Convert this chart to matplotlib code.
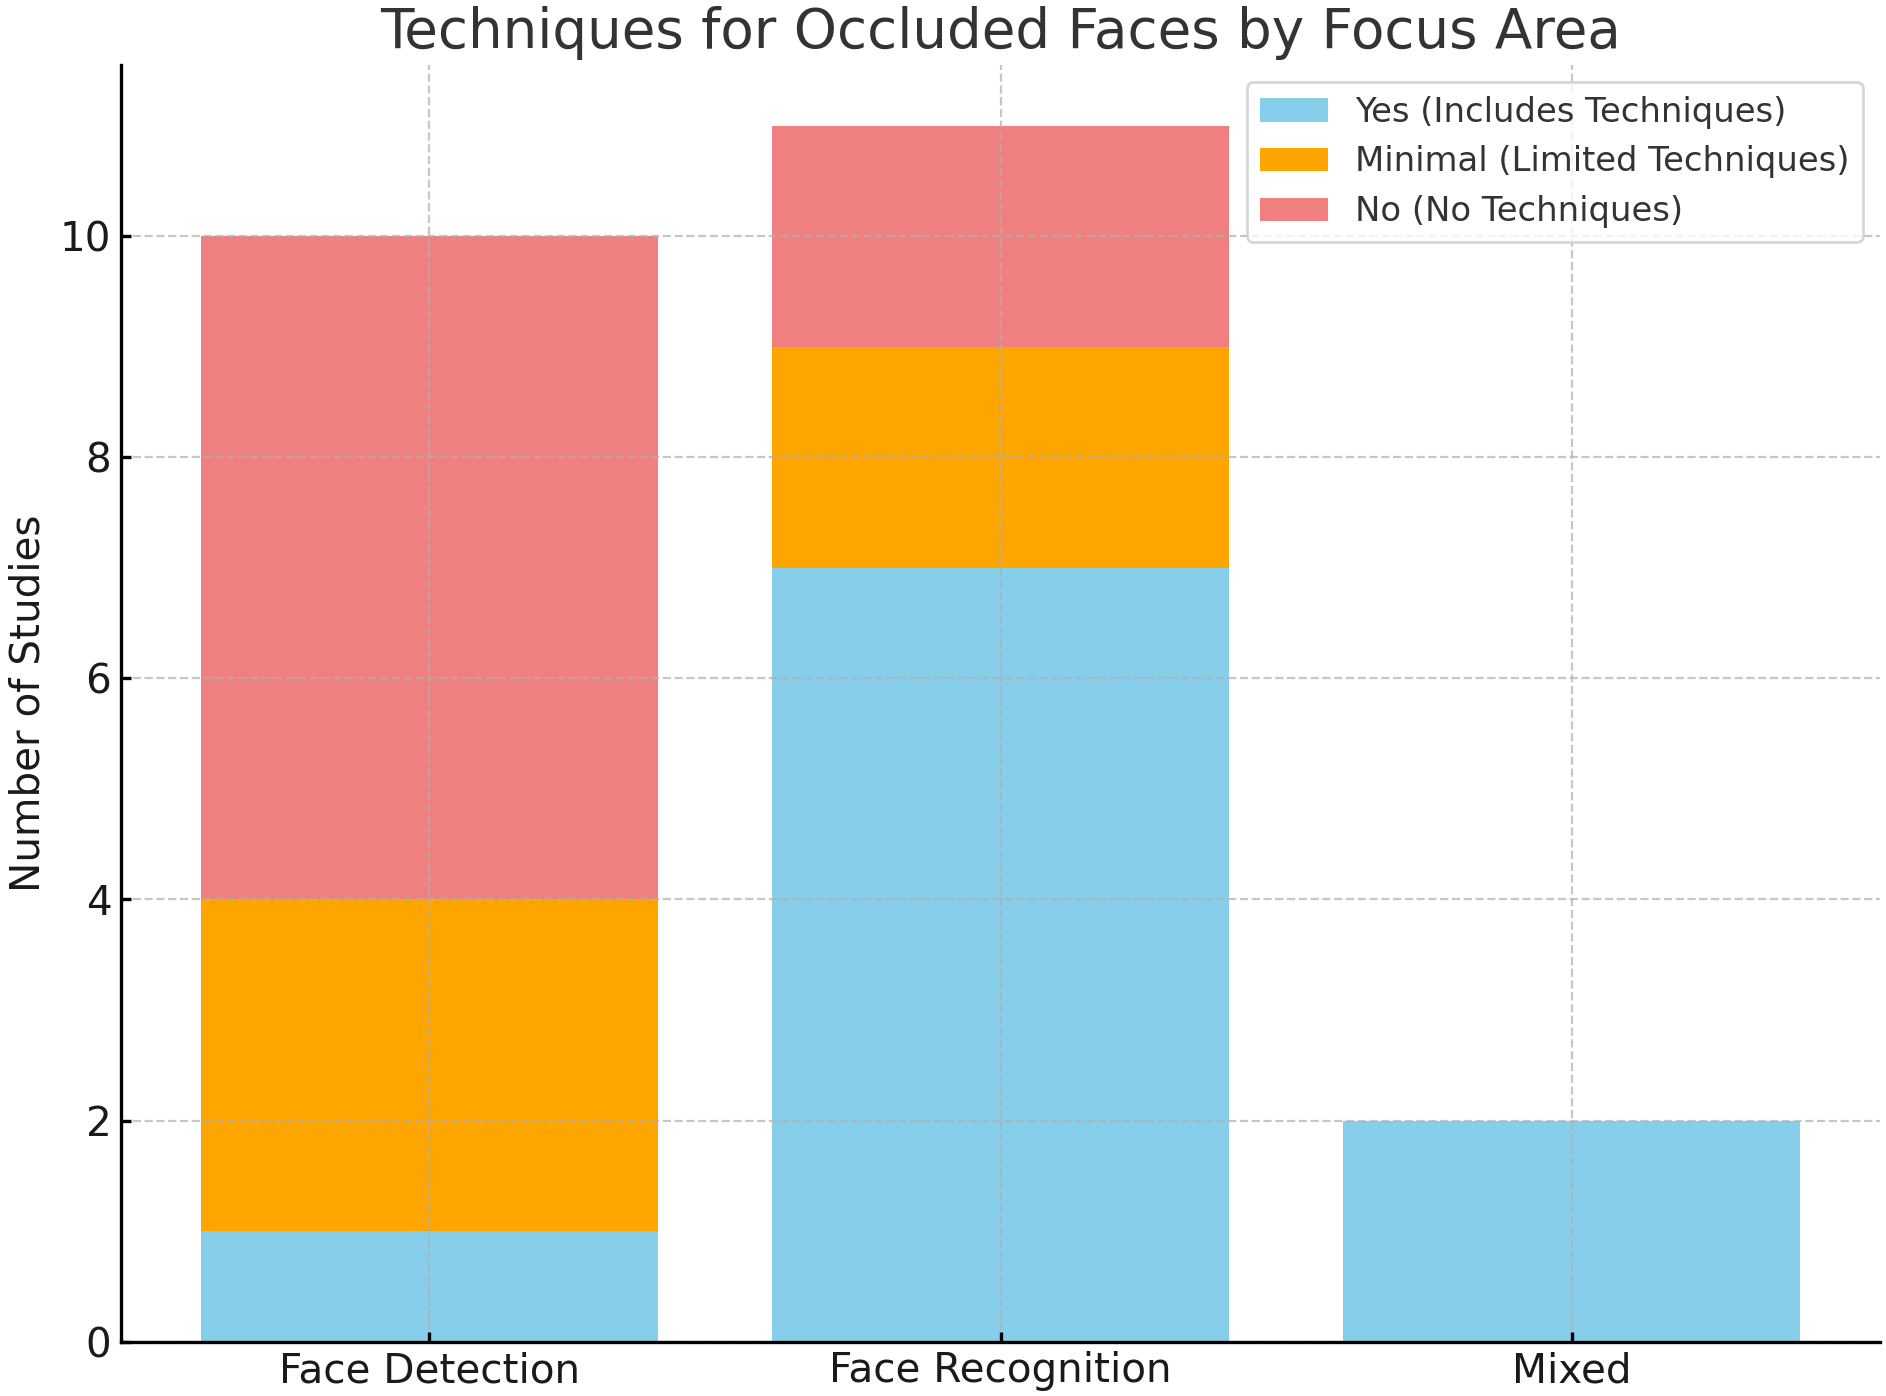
import matplotlib
matplotlib.use("Agg")
import matplotlib.pyplot as plt
import numpy as np

categories = ["Face Detection", "Face Recognition", "Mixed"]
yes_vals = [1, 7, 2]
minimal_vals = [3, 2, 0]
no_vals = [6, 2, 0]
series_labels = ["Yes (Includes Techniques)", "Minimal (Limited Techniques)", "No (No Techniques)"]
colors = ["skyblue", "orange", "lightcoral"]

plt.rcParams['font.family'] = ['DejaVu Sans']

fig = plt.figure(figsize=(9.43, 6.98), dpi=200)
ax = fig.add_axes([0.0642, 0.039, 0.9326, 0.9144])

x = np.arange(len(categories))
yes = np.array(yes_vals)
mini = np.array(minimal_vals)
no = np.array(no_vals)

ax.bar(x, yes, width=0.8, color=colors[0], label=series_labels[0])
ax.bar(x, mini, width=0.8, bottom=yes, color=colors[1], label=series_labels[1])
ax.bar(x, no, width=0.8, bottom=yes + mini, color=colors[2], label=series_labels[2])

ax.set_xticks(x)
ax.set_xticklabels(categories)
ax.set_ylabel("Number of Studies", fontsize=14.6, color='#1a1a1a')
ax.set_title("Techniques for Occluded Faces by Focus Area", fontsize=19.7, color='#333333')
ax.tick_params(axis='both', direction='in', labelsize=14.6, labelcolor='#1a1a1a', width=1.2)
ax.grid(True, linestyle='--', alpha=0.7)
ax.spines['top'].set_visible(False)
ax.spines['right'].set_visible(False)
ax.spines['left'].set_linewidth(1.2)
ax.spines['bottom'].set_linewidth(1.2)

leg = ax.legend(loc='upper right', fontsize=12.2)
for t in leg.get_texts():
    t.set_color('#333333')

fig.savefig("out.png", dpi=200)
